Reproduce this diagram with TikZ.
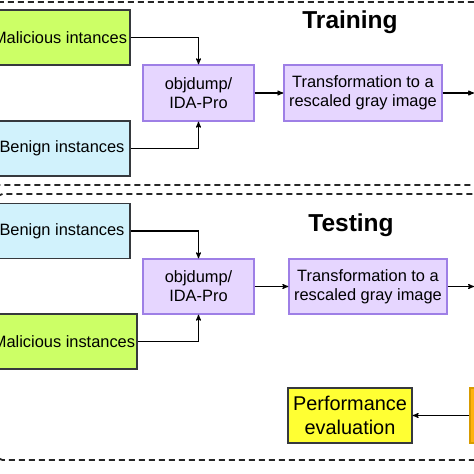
\documentclass[tikz,border=0pt]{standalone}
\usepackage{fontspec}
\setmainfont{Liberation Sans}
\usetikzlibrary{calc}
\usetikzlibrary{arrows}

\definecolor{malfill}{HTML}{CCFF66}
\definecolor{benfill}{HTML}{D1F2FC}
\definecolor{procfill}{HTML}{E6D6FF}
\definecolor{procline}{HTML}{9E7FE6}
\definecolor{boxline}{HTML}{36393D}
\definecolor{evalfill}{HTML}{FFFF33}
\definecolor{clsfill}{HTML}{FFB30F}
\definecolor{clsline}{HTML}{D79B00}

\begin{document}
\begin{tikzpicture}[x=1pt,y=-1pt,
    box/.style={draw=boxline,line width=1.4pt,inner sep=0pt,align=center,
      font=\fontsize{16.4}{19}\selectfont},
    malbox/.style={box,fill=malfill,minimum height=55pt},
    benbox/.style={box,fill=benfill,minimum height=55pt},
    procbox/.style={box,draw=procline,fill=procfill,minimum height=56pt},
    arr/.style={-stealth',line width=1.1pt},
    phase/.style={draw=black!85,line width=1.8pt,dash pattern=on 6pt off 4pt,rounded corners=5pt},
    title/.style={anchor=base,font=\fontsize{24.5}{28}\selectfont\bfseries}]
    \path[use as bounding box] (0,0) rectangle (474,474);
    \clip (0,0) rectangle (474,474);
    % Phases.
    \draw[phase] (-20,2) rectangle (500,185);
    \draw[phase] (-2.5,194) rectangle (500,460);
    \node[title] (train) at (350,28) {Training};
    \node[title] (test) at (351,231) {Testing};
    % Training.
    \node[malbox,minimum width=140pt] (mal1) at (60,37.5) {Malicious intances};
    \node[benbox,minimum width=136pt] (ben1) at (62,148.5) {Benign instances};
    \node[procbox,minimum width=111pt] (obj1) at (198.5,93) {objdump/\\IDA-Pro};
    \node[procbox,minimum width=158pt] (tr1) at (363,93) {Transformation to a\\rescaled gray image};
    \coordinate (out1) at (474,93);
    \draw[arr] (mal1.east) -| (obj1.north);
    \draw[arr] (ben1.east) -| (obj1.south);
    \draw[arr] (obj1.east) -- (tr1.west);
    \draw[arr] (tr1.east) -- (out1);
    % Testing.
    \node[benbox,minimum width=136pt] (ben2) at (62,231) {Benign instances};
    \node[malbox,minimum width=146pt] (mal2) at (64,341.5) {Malicious instances};
    \node[procbox,minimum width=111pt,minimum height=55pt] (obj2) at (198.5,286.5) {objdump/\\IDA-Pro};
    \node[procbox,minimum width=158pt,minimum height=55pt] (tr2) at (368,286.5) {Transformation to a\\rescaled gray image};
    \coordinate (out2) at (474,286.5);
    \draw[arr] (ben2.east) -| (obj2.north);
    \draw[arr] (mal2.east) -| (obj2.south);
    \draw[arr] (obj2.east) -- (tr2.west);
    \draw[arr] (tr2.east) -- (out2);
    % Evaluation.
    \node[box,fill=evalfill,minimum width=124pt,minimum height=55pt,
      font=\fontsize{19.9}{24}\selectfont] (perf) at (350,415.5) {Performance\\evaluation};
    \node[box,draw=clsline,fill=clsfill,minimum width=120pt,minimum height=55pt] (cls) at (530,415.5) {};
    \draw[arr] (cls.west) -- (perf.east);
\end{tikzpicture}
\end{document}
